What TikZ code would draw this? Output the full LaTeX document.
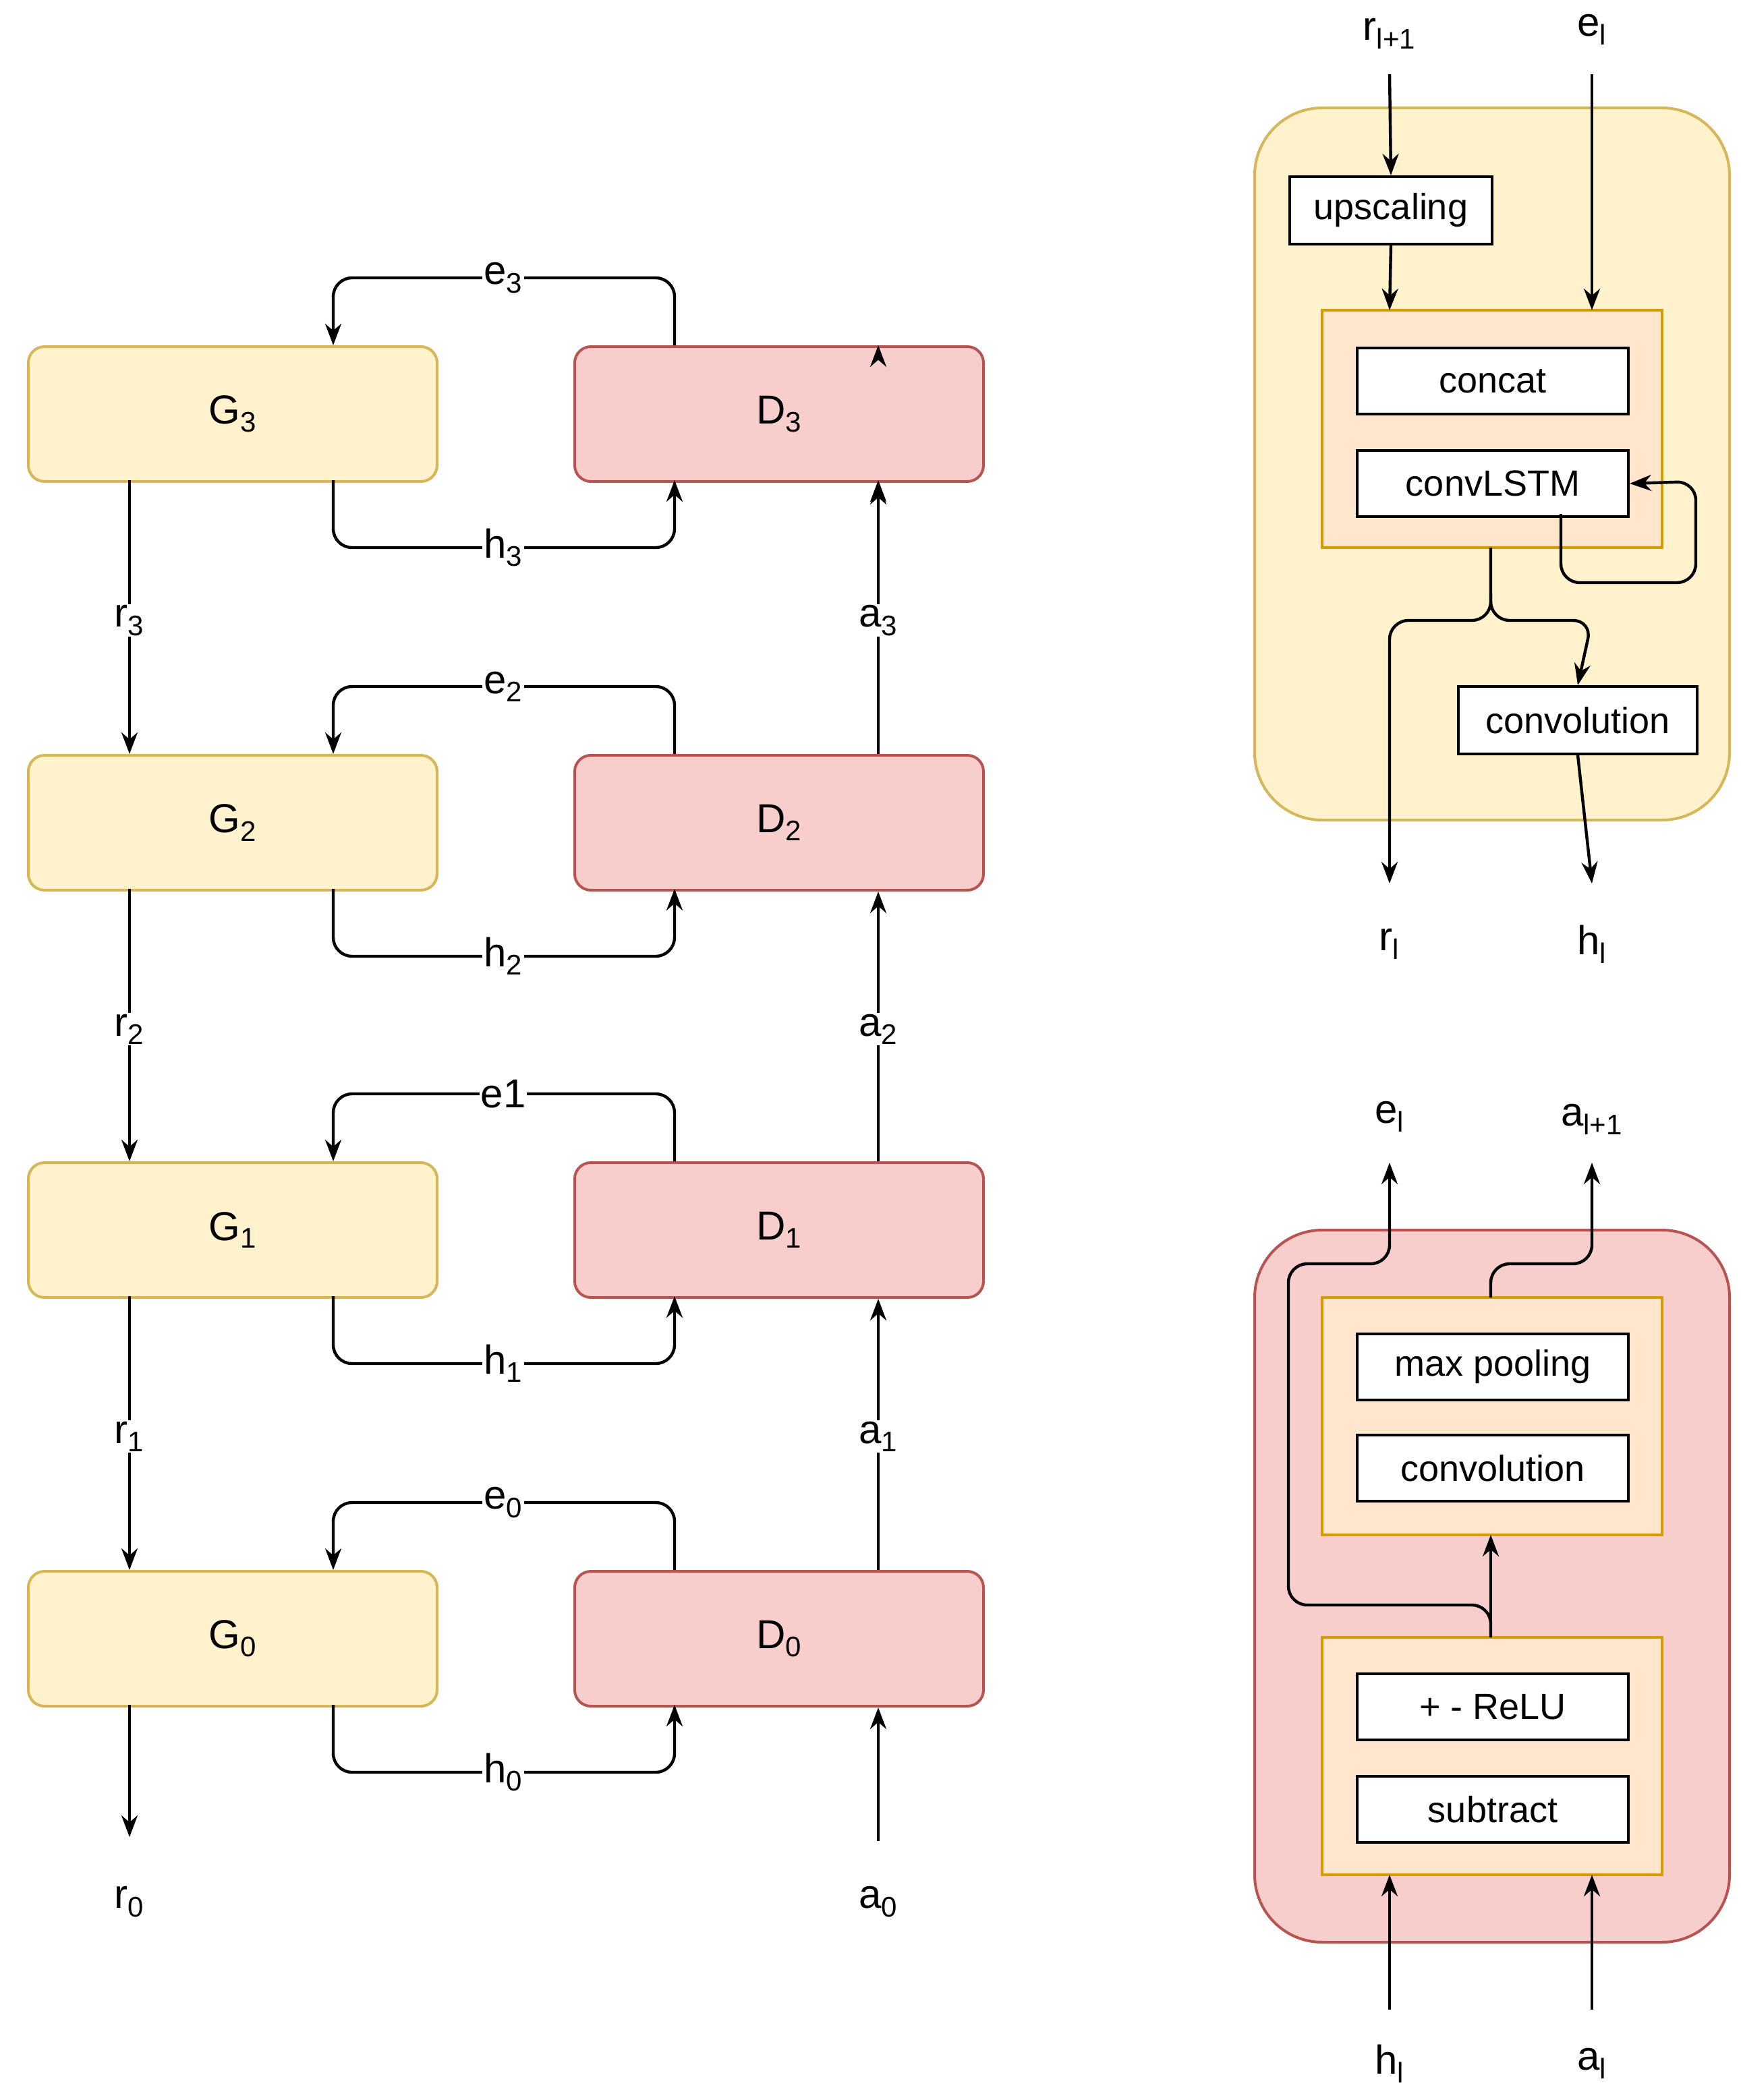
\documentclass[tikz,border=0pt]{standalone}
\usepackage{fontspec}
\setmainfont{Liberation Sans}
\usetikzlibrary{arrows.meta}
\definecolor{yf}{HTML}{FFF2CC}\definecolor{yd}{HTML}{D6B656}
\definecolor{rf}{HTML}{F8CECC}\definecolor{rd}{HTML}{B85450}
\definecolor{of}{HTML}{FFE6CC}\definecolor{od}{HTML}{D79B00}
\begin{document}
\begin{tikzpicture}[x=1pt,y=-1pt,
 every node/.style={font=\fontsize{30}{34}\selectfont},
 ar/.style={draw,line width=2.2pt,-{Stealth[length=16pt,width=12pt]},rounded corners=14pt},
 ln/.style={draw,line width=2.2pt,rounded corners=14pt},
 gbox/.style={draw=yd,fill=yf,line width=2pt,rounded corners=12pt,minimum width=303pt,minimum height=100pt,anchor=north west},
 dbox/.style={draw=rd,fill=rf,line width=2pt,rounded corners=12pt,minimum width=303pt,minimum height=100pt,anchor=north west},
 wbox/.style={draw,fill=white,line width=2pt,minimum width=201pt,minimum height=49pt,anchor=north west,font=\fontsize{27}{30}\selectfont},
 lab/.style={fill=white,inner sep=1pt},
 txt/.style={inner sep=1pt}]
\useasboundingbox (0,0) rectangle (1290,1557);
% left column
\foreach \i/\y in {3/256,2/559,1/861,0/1164}{
  \node[gbox] (G\i) at (20,\y) {G\textsubscript{\i}};
  \node[dbox] (D\i) at (425,\y) {D\textsubscript{\i}};
  \coordinate (gt\i) at (96,\y);
  \coordinate (gb\i) at (96,\y+100);
}
\foreach \i/\y/\e in {3/256/e\textsubscript{3},2/559/e\textsubscript{2},1/861/e1,0/1164/e\textsubscript{0}}{
  \draw[ar] (500,\y) -- (500,\y-50) -- (247,\y-50) -- (247,\y);
  \node[lab] at (373,\y-50) {\e};
  \draw[ar] (247,\y+100) -- (247,\y+150) -- (500,\y+150) -- (500,\y+100);
  \node[lab] at (373,\y+150) {h\textsubscript{\i}};
}
% r arrows
\foreach \a/\b/\yl in {3/2/460,2/1/763,1/0/1065}{
  \draw[ar] (gb\a) -- (gt\b);
  \node[lab] at (96,\yl) {r\textsubscript{\a}};
}
\coordinate (r0e) at (96,1362);
\draw[ar] (gb0) -- (r0e);
\node[txt] (r0) at (96,1410) {r\textsubscript{0}};
% a arrows
\foreach \a/\b/\yl in {0/1/1065,1/2/763,2/3/460}{
  \draw[ar] (D\a.north -| 651,0) -- (D\b.south -| 651,0);
  \node[lab] at (651,\yl) {a\textsubscript{\b}};
}
\draw[ar] (651,1365) -- (D0.south -| 651,0);
\node[txt] (a0) at (651,1410) {a\textsubscript{0}};
\draw[ar] (D3.north -| 651,0) ++(0,0);
\draw[ar] (651,440) -- (651,356);
% right top (generator)
\draw[draw=yd,fill=yf,line width=2pt,rounded corners=50pt] (930,80) rectangle (1282,608);
\node[txt] (rl1) at (1030,25) {r\textsubscript{l+1}};
\node[txt] (el) at (1180,22) {e\textsubscript{l}};
\node[draw,fill=white,line width=2pt,minimum width=150pt,minimum height=50pt,anchor=north west,font=\fontsize{27}{30}\selectfont] (up) at (955,130) {upscaling};
\draw[draw=od,fill=of,line width=2pt] (980,230) rectangle (1232,406);
\coordinate (inT) at (1105,406);
\node[wbox] (cc) at (1005,257) {concat};
\node[wbox] (cl) at (1005,333) {convLSTM};
\draw[ar] (1030,55) -- (up.north);
\draw[ar] (up.south) -- (1030,230);
\draw[ar] (1180,55) -- (1180,230);
\draw[ar] (1157,381) -- (1157,432) -- (1257,432) -- (1257,357) -- (cl.east);
\node[draw,fill=white,line width=2pt,minimum width=177pt,minimum height=50pt,anchor=north west,font=\fontsize{27}{30}\selectfont] (cv) at (1080,508) {convolution};
\draw[ar] (inT) -- (1105,460) -- (1030,460) -- (1030,655);
\draw[ar] (1105,440) -- (1105,460) -- (1180,460) -- (cv.north);
\draw[ar] (cv.south) -- (1180,655);
\node[txt] (rl) at (1030,700) {r\textsubscript{l}};
\node[txt] (hl) at (1180,700) {h\textsubscript{l}};
% right bottom (discriminator)
\draw[draw=rd,fill=rf,line width=2pt,rounded corners=50pt] (930,912) rectangle (1282,1440);
\draw[draw=od,fill=of,line width=2pt] (980,962) rectangle (1232,1138);
\draw[draw=od,fill=of,line width=2pt] (980,1214) rectangle (1232,1390);
\node[wbox] (mp) at (1005,988) {max pooling};
\node[wbox] (cv2) at (1005,1063) {convolution};
\node[wbox] (re) at (1005,1240) {+ - ReLU};
\node[wbox] (su) at (1005,1316) {subtract};
\node[txt] (el2) at (1030,828) {e\textsubscript{l}};
\node[txt] (al1) at (1180,830) {a\textsubscript{l+1}};
\node[txt] (hl2) at (1030,1530) {h\textsubscript{l}};
\node[txt] (al) at (1180,1530) {a\textsubscript{l}};
\draw[ar] (1030,1490) -- (1030,1390);
\draw[ar] (1180,1490) -- (1180,1390);
\draw[ar] (1105,1214) -- (1105,1138);
\draw[ar] (1105,1214) -- (1105,1190) -- (955,1190) -- (955,937) -- (1030,937) -- (1030,862);
\draw[ar] (1105,962) -- (1105,937) -- (1180,937) -- (1180,862);
\end{tikzpicture}
\end{document}
